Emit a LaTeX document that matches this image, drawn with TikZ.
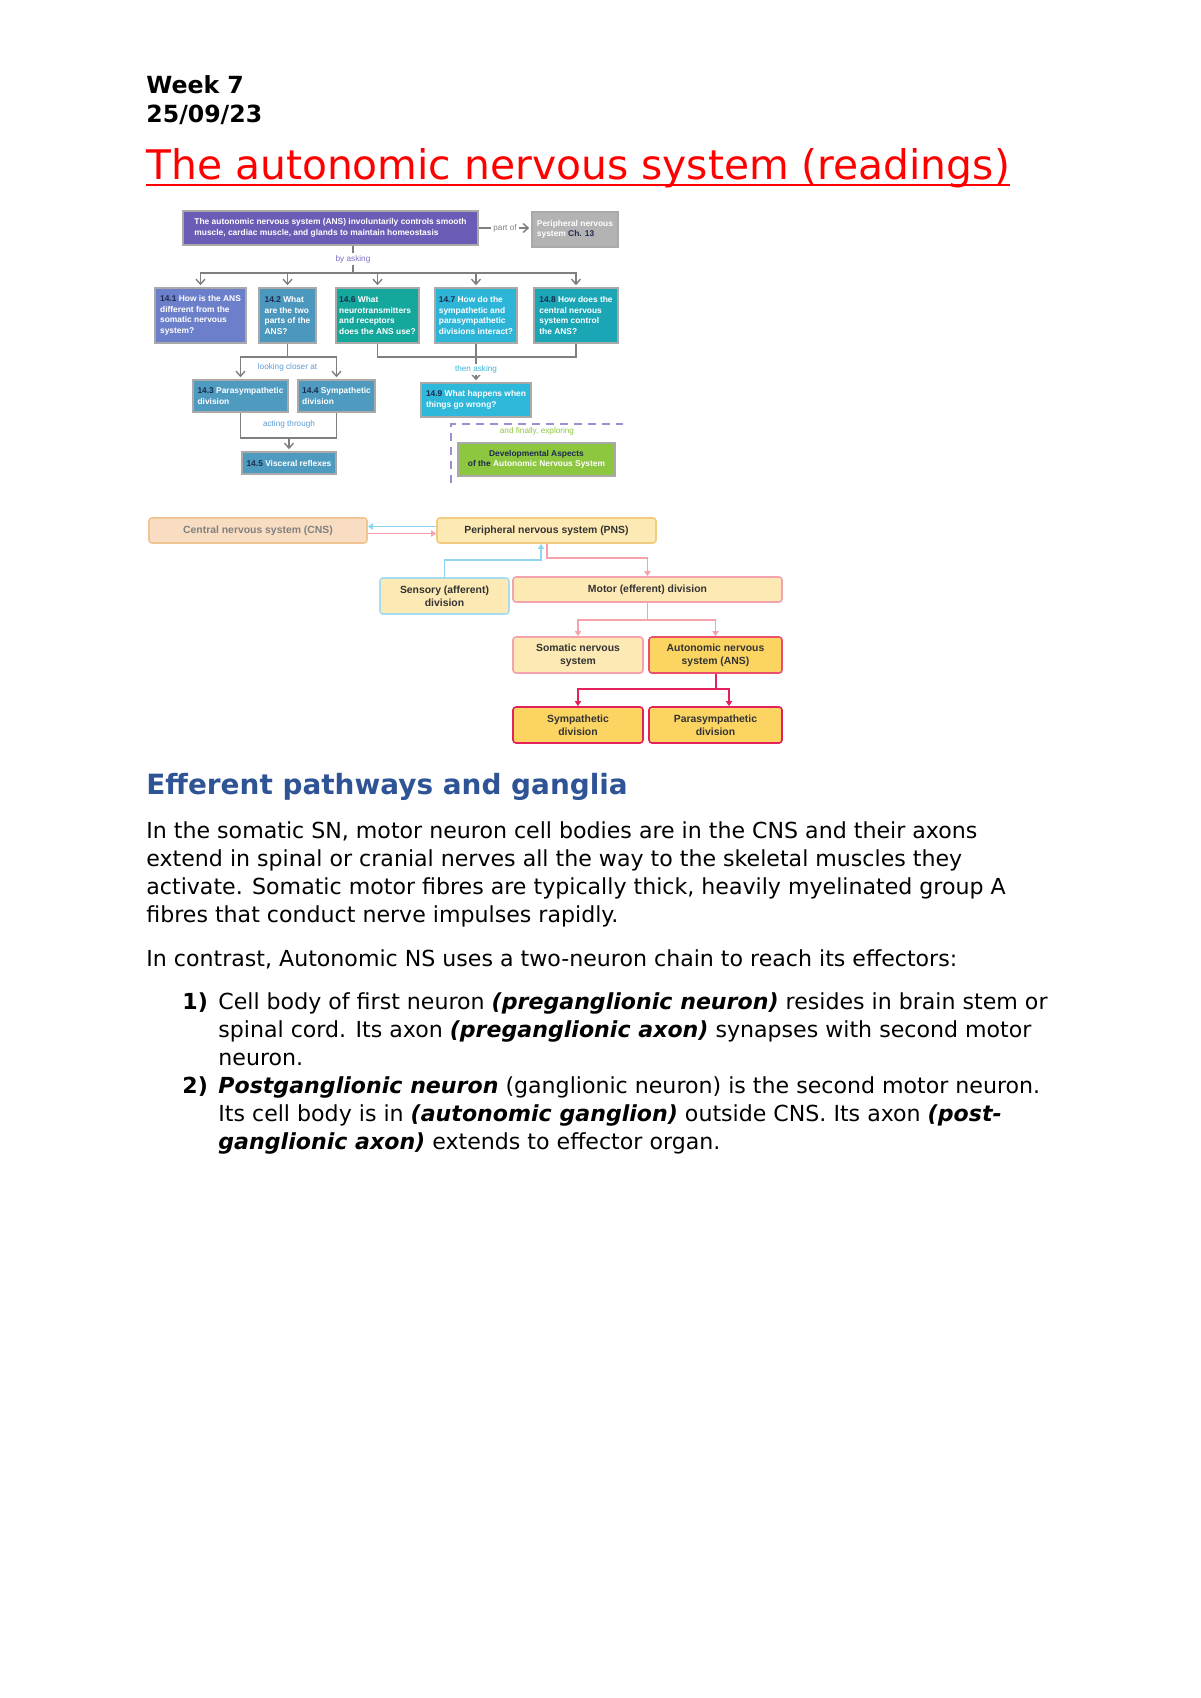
\documentclass[tikz,border=0pt]{standalone}
\usepackage{fontspec}
\setmainfont{DejaVu Sans}
\newfontfamily\lib{Liberation Sans}
\usetikzlibrary{arrows.meta,calc}
\definecolor{cmpurple}{HTML}{6B5DB5}
\definecolor{cmgreybox}{HTML}{B3B3B3}
\definecolor{cmedge}{HTML}{A9A9A9}
\definecolor{cmline}{HTML}{7F7F7F}
\definecolor{cmnum}{HTML}{1D2B4F}
\definecolor{cA}{HTML}{6C7FCB}
\definecolor{cB}{HTML}{4C97BD}
\definecolor{cC}{HTML}{14A79B}
\definecolor{cD}{HTML}{2DB5D8}
\definecolor{cE}{HTML}{1BA6B6}
\definecolor{cF}{HTML}{4E9BBF}
\definecolor{cG}{HTML}{2EB8DA}
\definecolor{cgreen}{HTML}{8DC63F}
\definecolor{lblpurple}{HTML}{7B6FC4}
\definecolor{lblblue}{HTML}{5B9BD5}
\definecolor{lblcyan}{HTML}{3BB4D8}
\definecolor{dashpurple}{HTML}{9A8FD0}
\definecolor{cnsfill}{HTML}{F9DDC2}
\definecolor{cnsedge}{HTML}{F0C594}
\definecolor{ylfill}{HTML}{FDE9B3}
\definecolor{pnsedge}{HTML}{F2CB80}
\definecolor{sensedge}{HTML}{A6DDF3}
\definecolor{pinkedge}{HTML}{F4A3AE}
\definecolor{ansfill}{HTML}{FBD462}
\definecolor{ansedge}{HTML}{EA4F6C}
\definecolor{crimson}{HTML}{E3215A}
\definecolor{bluearr}{HTML}{8ED5F2}
\definecolor{pinkarr}{HTML}{F6A2AC}
\definecolor{headblue}{HTML}{2F5496}
\definecolor{fctext}{HTML}{333333}
\begin{document}
\begin{tikzpicture}[x=0.5pt,y=-0.5pt,
  body/.style={anchor=base west, inner sep=0pt, font=\fontsize{11.05pt}{14pt}\selectfont},
  cmbox/.style n args={3}{draw=cmedge, line width=0.8pt, fill=#1, minimum width=#2*0.5pt, minimum height=#3*0.5pt, inner sep=0pt, align=left, text=white, font=\lib\bfseries\fontsize{4.2pt}{5.25pt}\selectfont},
  cmlabel/.style={inner sep=1pt, font=\lib\fontsize{4.1pt}{5pt}\selectfont},
  cmconn/.style={draw=cmline, line width=0.75pt},
  cmarr/.style={cmconn, -{Straight Barb[length=2.5pt,width=4.5pt,line width=0.7pt]}, shorten >=1pt},
  fcbox/.style n args={4}{draw=#2, fill=#1, line width=0.8pt, rounded corners=1.5pt, minimum width=#3*0.5pt, minimum height=#4*0.5pt, inner sep=0pt, align=center, text=fctext, font=\lib\bfseries\fontsize{5.2pt}{6.4pt}\selectfont},
  fcarr/.style={draw=#1, line width=0.8pt, -{Triangle[length=2.5pt,width=3pt]}},
  fcline/.style={draw=#1, line width=0.8pt}
]
\fill[white] (0,0) rectangle (1200,1698);
\useasboundingbox (0,0) rectangle (1200,1698);

% ---------- header ----------
\node[anchor=base west, inner sep=0pt, font=\bfseries\fontsize{11.8pt}{14pt}\selectfont] (week) at (146,93) {Week 7};
\node[anchor=base west, inner sep=0pt, font=\bfseries\fontsize{11.8pt}{14pt}\selectfont] (date) at (146,122) {25/09/23};
\node[anchor=base west, inner sep=0pt, text=red, font=\fontsize{20.4pt}{24pt}\selectfont] (title) at (146,179) {The autonomic nervous system (readings)};
\draw[red, line width=1.3pt] (title.base west) ++(0,6) -- ($(title.base east)+(0,6)$);

% ---------- concept map ----------
\node[cmbox={cmpurple}{295}{34}] (ans) at (330.5,228) {The autonomic nervous system (ANS) involuntarily controls smooth\\muscle, cardiac muscle, and glands to maintain homeostasis};
\node[cmbox={cmgreybox}{86}{35}] (pns0) at (575,229.5) {Peripheral nervous\\system {\color{cmnum}Ch. 13}};
\node[cmbox={cA}{91}{55}] (q1) at (200.5,315.5) {{\color{cmnum}14.1} How is the ANS\\different from the\\somatic nervous\\system?};
\node[cmbox={cB}{57}{55}] (q2) at (287.5,315.5) {{\color{cmnum}14.2} What\\are the two\\parts of the\\ANS?};
\node[cmbox={cC}{83}{55}] (q6) at (377.5,315.5) {{\color{cmnum}14.6} What\\neurotransmitters\\and receptors\\does the ANS use?};
\node[cmbox={cD}{82}{55}] (q7) at (476,315.5) {{\color{cmnum}14.7} How do the\\sympathetic and\\parasympathetic\\divisions interact?};
\node[cmbox={cE}{84}{55}] (q8) at (576,315.5) {{\color{cmnum}14.8} How does the\\central nervous\\system control\\the ANS?};
\node[cmbox={cF}{95}{32}] (q3) at (240.5,396) {{\color{cmnum}14.3} Parasympathetic\\division};
\node[cmbox={cF}{77}{32}] (q4) at (336.5,396) {{\color{cmnum}14.4} Sympathetic\\division};
\node[cmbox={cG}{110}{34}] (q9) at (476,400) {{\color{cmnum}14.9} What happens when\\things go wrong?};
\node[cmbox={cF}{94}{22}] (q5) at (289,463) {{\color{cmnum}14.5} Visceral reflexes};
\node[cmbox={cgreen}{157}{33}, align=center, text=cmnum] (dev) at (536.5,459.5) {Developmental Aspects\\of the {\color{white}Autonomic Nervous System}};

\draw[cmarr] (ans.east) -- (ans.east -| pns0.west) node[midway, fill=white, cmlabel, text=cmline] {part of};
\coordinate (hub) at ($(ans.south)+(22.5,27)$);
\draw[cmconn] ($(ans.south)+(22.5,0)$) -- (hub) node[midway, fill=white, cmlabel, text=lblpurple] {by asking};
\foreach \b in {q1,q2,q6,q7,q8} \draw[cmarr] (hub) -| (\b.north);
\coordinate (h2) at ($(q2.south)+(0,13)$);
\draw[cmconn] (q2.south) -- (h2);
\draw[cmarr] (h2) -| (q3.north);
\draw[cmarr] (h2) -| (q4.north);
\node[cmlabel, text=lblblue] (lk) at ($(h2)+(0,11)$) {looking closer at};
\draw[cmconn] (q6.south) -- ++(0,13) -| (q8.south);
\coordinate (h3) at ($(q7.south)+(0,13)$);
\draw[cmconn] (q7.south) -- (h3);
\draw[cmarr] (h3) -- (q9.north) node[midway, fill=white, cmlabel, text=lblcyan] {then asking};
\coordinate (h4) at ($(q3.south)+(0,25)$);
\draw[cmconn] (q3.south) -- (h4) -| (q4.south);
\draw[cmarr] (q5.north |- h4) -- (q5.north);
\node[cmlabel, text=lblblue] (act) at (289,424) {acting through};
\draw[dashpurple, line width=0.7pt, dash pattern=on 4pt off 3pt] (451,483) -- (451,424) -- (623,424);
\node[cmlabel, text=cgreen] (fin) at (537,431) {and finally, exploring};

% ---------- flowchart ----------
\node[fcbox={cnsfill}{cnsedge}{218}{25}, text=gray] (cns) at (258,530.5) {Central nervous system (CNS)};
\node[fcbox={ylfill}{pnsedge}{219}{25}] (pns) at (546.5,530.5) {Peripheral nervous system (PNS)};
\node[fcbox={ylfill}{sensedge}{129}{36}] (sens) at (444.5,596) {Sensory (afferent)\\division};
\node[fcbox={ylfill}{pinkedge}{269}{25}] (motor) at (647.5,589.5) {Motor (efferent) division};
\node[fcbox={ylfill}{pinkedge}{130}{36}] (soma) at (578,655) {Somatic nervous\\system};
\node[fcbox={ansfill}{ansedge}{133}{36}] (ansf) at (715.5,655) {Autonomic nervous\\system (ANS)};
\node[fcbox={ansfill}{crimson}{130}{36}] (symp) at (578,725) {Sympathetic\\division};
\node[fcbox={ansfill}{crimson}{133}{36}] (para) at (715.5,725) {Parasympathetic\\division};

\draw[fcarr=bluearr] ($(pns.west)+(0,-4)$) -- ($(cns.east)+(0,-4)$);
\draw[fcarr=pinkarr] ($(cns.east)+(0,3)$) -- ($(pns.west)+(0,3)$);
\draw[fcarr=bluearr] (sens.north) |- ($(pns.south)+(-5.5,16)$) -- ($(pns.south)+(-5.5,0)$);
\draw[fcarr=pinkarr] ($(pns.south)+(0.5,0)$) |- ($(motor.north)+(0,-18)$) -- (motor.north);
\draw[fcarr=pinkarr] (motor.south) -- ++(0,17) -| (soma.north);
\draw[fcarr=pinkarr] (motor.south) -- ++(0,17) -| (ansf.north);
\draw[fcarr=crimson, line width=1pt] (ansf.south) -- ++(0,15) -| (symp.north);
\draw[fcarr=crimson, line width=1pt] (ansf.south) -- ++(0,15) -| ($(para.north)+(13.5,0)$);

% ---------- text ----------
\node[anchor=base west, inner sep=0pt, text=headblue, font=\bfseries\fontsize{13.95pt}{16pt}\selectfont] (head) at (146,794) {Efferent pathways and ganglia};
\node[body] (p1) at (146,838) {In the somatic SN, motor neuron cell bodies are in the CNS and their axons};
\node[body] (p2) at (146,866) {extend in spinal or cranial nerves all the way to the skeletal muscles they};
\node[body] (p3) at (146,894) {activate. Somatic motor fibres are typically thick, heavily myelinated group A};
\node[body] (p4) at (146,922) {fibres that conduct nerve impulses rapidly.};
\node[body] (p5) at (146,966) {In contrast, Autonomic NS uses a two-neuron chain to reach its effectors:};
\node[body, font=\bfseries\fontsize{11.05pt}{14pt}\selectfont] (n1) at (182,1009) {1)};
\node[body] (l1) at (218,1009) {Cell body of first neuron \textbf{\textit{(preganglionic neuron)}} resides in brain stem or};
\node[body] (l2) at (218,1037) {spinal cord. Its axon \textbf{\textit{(preganglionic axon)}} synapses with second motor};
\node[body] (l3) at (218,1065) {neuron.};
\node[body, font=\bfseries\fontsize{11.05pt}{14pt}\selectfont] (n2) at (182,1093) {2)};
\node[body] (l4) at (218,1093) {\textbf{\textit{Postganglionic neuron}} (ganglionic neuron) is the second motor neuron.};
\node[body] (l5) at (218,1121) {Its cell body is in \textbf{\textit{(autonomic ganglion)}} outside CNS. Its axon \textbf{\textit{(post-}}};
\node[body] (l6) at (218,1149) {\textbf{\textit{ganglionic axon)}} extends to effector organ.};
\end{tikzpicture}
\end{document}
